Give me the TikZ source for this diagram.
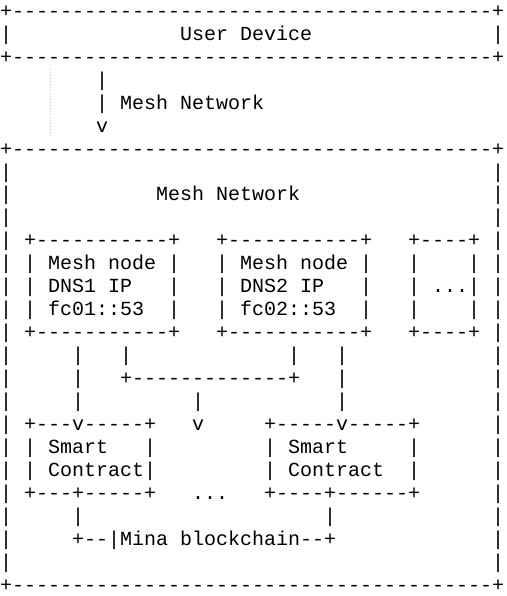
\documentclass[tikz,border=0pt]{standalone}
\usepackage{fontspec}
\setmonofont{Liberation Mono}
\newdimen\charw
\charw=12.0019pt
\newcommand{\gap}[1]{\kern#1\charw}

\begin{document}
\begin{tikzpicture}[x=1pt, y=-22.96pt,
    ascii/.style={anchor=base west, inner sep=0pt, outer sep=0pt,
        font=\fontsize{20pt}{23pt}\ttfamily, text=black}]
    \useasboundingbox (0pt,0pt) rectangle (506pt,-596pt);
    % editor indent guide
    \coordinate (guideTop) at (50.5pt,-69pt);
    \coordinate (guideBot) at (50.5pt,-137pt);
    \draw[black!25, dotted, line width=1pt] (guideTop) -- (guideBot);
    \begin{scope}[yshift=5.66pt]
        % user device
        \node[ascii] (row01) at (0,1) {+----------------------------------------+};
        \node[ascii] (row02) at (0,2) {|\gap{14}User Device\gap{15}|};
        \node[ascii] (row03) at (0,3) {+----------------------------------------+};
        \node[ascii] (row04) at (0,4) {\gap{8}|};
        \node[ascii] (row05) at (0,5) {\gap{8}| Mesh Network};
        \node[ascii] (row06) at (0,6) {\gap{8}v};
        % mesh network
        \node[ascii] (row07) at (0,7) {+----------------------------------------+};
        \node[ascii] (row08) at (0,8) {|\gap{40}|};
        \node[ascii] (row09) at (0,9) {|\gap{12}Mesh Network\gap{16}|};
        \node[ascii] (row10) at (0,10) {|\gap{40}|};
        \node[ascii] (row11) at (0,11) {| +-----------+\gap{3}+-----------+\gap{3}+----+ |};
        \node[ascii] (row12) at (0,12) {| | Mesh node |\gap{3}| Mesh node |\gap{3}|\gap{4}| |};
        \node[ascii] (row13) at (0,13) {| | DNS1 IP\gap{3}|\gap{3}| DNS2 IP\gap{3}|\gap{3}| ...| |};
        \node[ascii] (row14) at (0,14) {| | fc01::53\gap{2}|\gap{3}| fc02::53\gap{2}|\gap{3}|\gap{4}| |};
        \node[ascii] (row15) at (0,15) {| +-----------+\gap{3}+-----------+\gap{3}+----+ |};
        \node[ascii] (row16) at (0,16) {|\gap{5}|\gap{3}|\gap{13}|\gap{3}|\gap{12}|};
        \node[ascii] (row17) at (0,17) {|\gap{5}|\gap{3}+-------------+\gap{3}|\gap{12}|};
        \node[ascii] (row18) at (0,18) {|\gap{5}|\gap{9}|\gap{11}|\gap{12}|};
        % smart contracts
        \node[ascii] (row19) at (0,19) {| +---v-----+\gap{3}v\gap{5}+-----v-----+\gap{6}|};
        \node[ascii] (row20) at (0,20) {| | Smart\gap{3}|\gap{9}| Smart\gap{5}|\gap{6}|};
        \node[ascii] (row21) at (0,21) {| | Contract|\gap{9}| Contract\gap{2}|\gap{6}|};
        \node[ascii] (row22) at (0,22) {| +---+-----+\gap{3}...\gap{3}+----+------+\gap{6}|};
        \node[ascii] (row23) at (0,23) {|\gap{5}|\gap{20}|\gap{13}|};
        \node[ascii] (row24) at (0,24) {|\gap{5}+--|Mina blockchain--+\gap{13}|};
        \node[ascii] (row25) at (0,25) {|\gap{40}|};
        \node[ascii] (row26) at (0,26) {+----------------------------------------+};
    \end{scope}
\end{tikzpicture}
\end{document}
